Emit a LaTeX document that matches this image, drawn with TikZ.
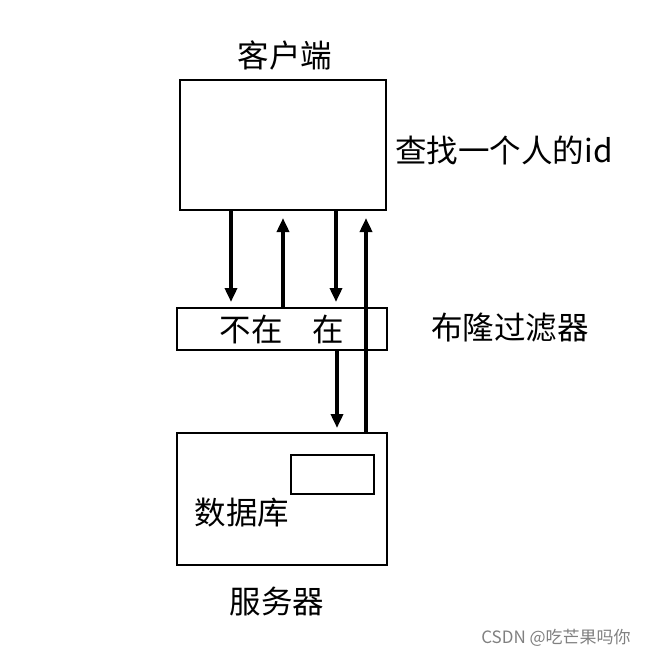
\documentclass[tikz,border=0pt]{standalone}
\usepackage{fontspec}
\setmainfont{Noto Sans CJK SC}
\usetikzlibrary{arrows.meta}
\begin{document}
\begin{tikzpicture}[x=1pt, y=-1pt, >={Triangle[length=14pt,width=12pt]},
    box/.style={draw, line width=1.6pt},
    flow/.style={->, line width=4pt},
    lbl/.style={font=\fontsize{31.5}{34}\selectfont, inner sep=0pt}]
  \useasboundingbox (0,0) rectangle (652,662);

  % boxes
  \draw [box] (180,80) rectangle (386,210);
  \draw [box] (177,308) rectangle (387,350);
  \draw [box] (177,433) rectangle (387,565);
  \draw [box] (291,455) rectangle (374,494);

  % labels
  \node [lbl] (client) at (285,55) {客户端};
  \node [lbl] (query) at (504,150) {查找一个人的id};
  \node [lbl] (notin) at (251,329) {不在};
  \node [lbl] (isin) at (328,329) {在};
  \node [lbl] (bloom) at (510,328) {布隆过滤器};
  \node [lbl] (db) at (242,513) {数据库};
  \node [lbl] (server) at (277,602) {服务器};
  \node [font=\fontsize{17}{19}\selectfont, text=gray] (mark) at (556,638) {CSDN @吃芒果吗你};

  % connectors
  \draw [flow] (231,210) -- (231,302);
  \draw [flow] (283,308) -- (283,218);
  \draw [flow] (336,210) -- (336,302);
  \draw [flow] (366,433) -- (366,218);
  \draw [flow] (337,350) -- (337,428);
\end{tikzpicture}
\end{document}
